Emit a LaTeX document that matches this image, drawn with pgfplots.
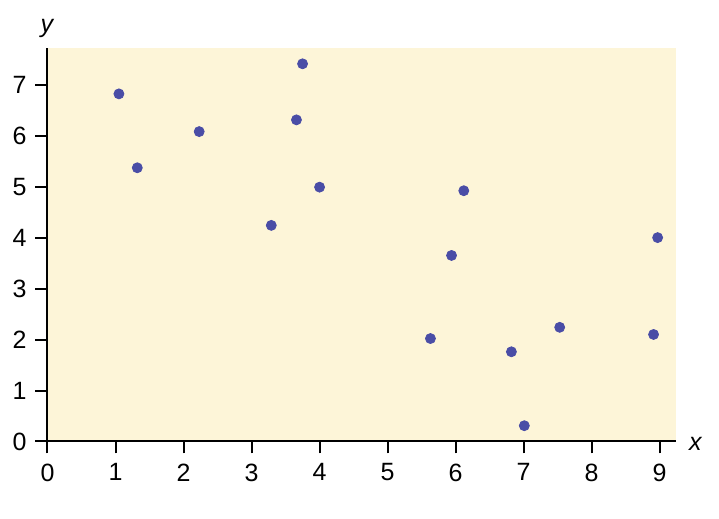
\documentclass[border=0pt]{standalone}
\usepackage{fontspec}
\setmainfont{Liberation Sans}
\usepackage{pgfplots}
\pgfplotsset{compat=1.18}

\definecolor{bgyellow}{RGB}{253,245,216}
\definecolor{dotblue}{RGB}{74,77,166}

\begin{document}
\begin{tikzpicture}
\begin{axis}[
    scale only axis,
    width=314.25pt, height=196.75pt,
    xmin=0, xmax=9.24,
    ymin=0, ymax=7.72,
    xtick={0,1,...,9},
    ytick={0,1,...,7},
    axis lines=left,
    x axis line style={-, line width=1pt},
    y axis line style={-, line width=1pt},
    tick align=outside,
    major tick length=6pt,
    tick style={black, line width=1pt},
    axis background/.style={fill=bgyellow},
    font=\fontsize{12.5}{15}\selectfont,
    /pgf/number format/assume math mode=true,
    xticklabel style={yshift=-1.5pt},
    yticklabel style={xshift=-1pt},
    xlabel={\textit{x}},
    ylabel={\textit{y}},
    every axis x label/.style={at={(axis description cs:1,0)}, anchor=west, xshift=3pt, yshift=-1pt},
    every axis y label/.style={at={(axis description cs:0,1)}, anchor=base, yshift=8pt},
    clip=false,
]
\addplot[only marks, mark=*, mark size=2.5pt, color=dotblue, mark options={draw=none, fill=dotblue}]
    coordinates {
(1.05,6.82)
(1.32,5.37)
(2.23,6.08)
(3.29,4.24)
(3.66,6.31)
(3.75,7.41)
(4.00,4.99)
(5.63,2.02)
(5.94,3.65)
(6.12,4.92)
(6.82,1.76)
(7.01,0.31)
(7.53,2.24)
(8.91,2.10)
(8.97,4.00)
    };
\end{axis}
\pgfresetboundingbox
\path[use as bounding box] ([shift={(-23.75pt,-38.75pt)}]current axis.south west)
    rectangle ([shift={(335.75pt,220.75pt)}]current axis.south west);
\end{tikzpicture}
\end{document}
